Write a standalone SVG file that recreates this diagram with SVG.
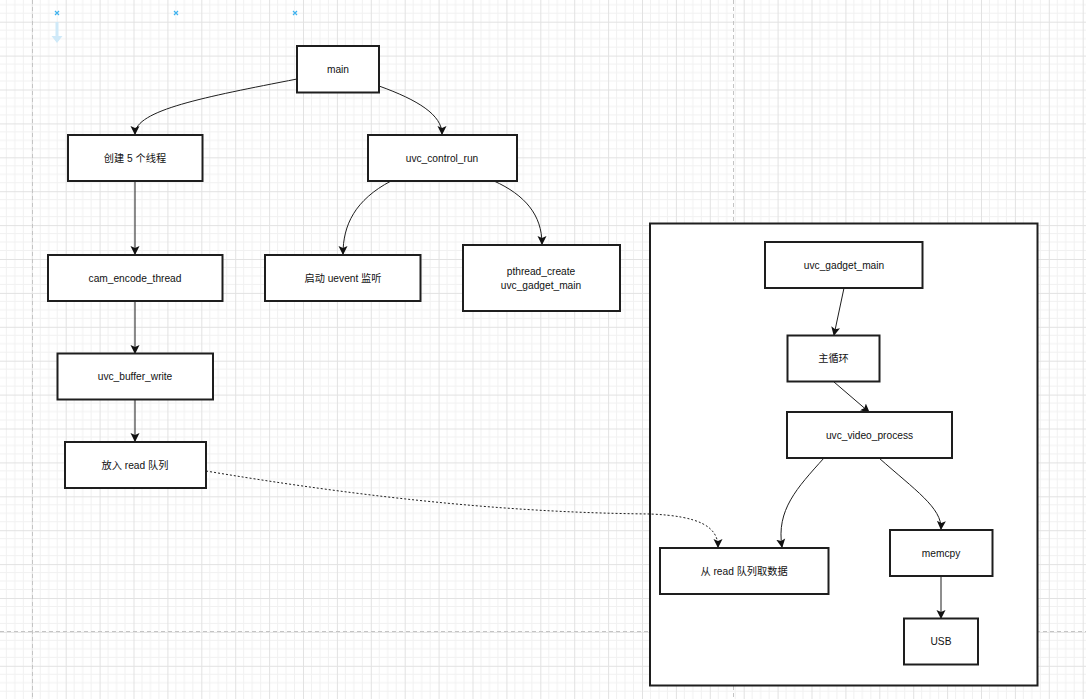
<svg xmlns="http://www.w3.org/2000/svg" width="1086" height="699" viewBox="0 0 1086 699">
<defs>
  <pattern id="grid" patternUnits="userSpaceOnUse" x="31.8" y="21.7" width="33.9" height="33.9">
    <path d="M8.475,0V33.9M16.95,0V33.9M25.425,0V33.9M0,8.475H33.9M0,16.95H33.9M0,25.425H33.9" stroke="#f1f1f1" stroke-width="1" fill="none"/>
    <path d="M0.5,0V33.9M0,0.5H33.9" stroke="#e2e2e2" stroke-width="1" fill="none"/>
  </pattern>
  <marker id="arr" markerUnits="userSpaceOnUse" markerWidth="10" markerHeight="10" refX="8" refY="4.5" orient="auto" viewBox="0 0 10 9">
    <path d="M0,0 L9,4.5 L0,9 L2,4.5 Z" fill="#111"/>
  </marker>
  <style>
    .box { fill: #fff; stroke: #1e1e1e; stroke-width: 2; }
    .lbl { font-family: "Liberation Sans", Arial, "Noto Sans CJK SC", sans-serif; font-size: 10.2px; fill: #111; text-anchor: middle; dominant-baseline: central; }
    .edge { fill: none; stroke: #1e1e1e; stroke-width: 1; marker-end: url(#arr); }
    .dot { stroke-dasharray: 2 2; }
    .page { stroke: #c4c4c4; stroke-width: 1; stroke-dasharray: 4 3; fill: none; }
  </style>
</defs>

<rect width="1086" height="699" fill="#fff"/>
<rect width="1086" height="699" fill="url(#grid)"/>
<g id="page-breaks">
  <path class="page" d="M32.5,0V699"/>
  <path class="page" d="M733.5,0V699"/>
  <path class="page" d="M0,631.5H1086"/>
</g>

<g id="ui-marks" stroke="#3fb2ee" stroke-width="1.2">
  <path d="M55,11l4,4M59,11l-4,4"/>
  <path d="M174,11l4,4M178,11l-4,4"/>
  <path d="M293,11l4,4M297,11l-4,4"/>
  <path d="M55.5,22V36H51.5L57,43L62.5,36H58.5V22Z" fill="#cfe9f8" stroke="none"/>
</g>

<g id="container">
  <rect class="box" x="650" y="223.5" width="387.5" height="462"/>
</g>

<g id="connectors">
  <path class="edge" d="M297,79 C205,97 135,110 135,134"/>
  <path class="edge" d="M379,86 C418,100 442,115 442,134"/>
  <path class="edge" d="M135,181 V254"/>
  <path class="edge" d="M135,301 V353"/>
  <path class="edge" d="M135,399 V441"/>
  <path class="edge" d="M391,181 C355,200 343,225 343,254"/>
  <path class="edge" d="M494,181 C525,195 542,215 542,244"/>
  <path class="edge dot" d="M206,471 C420,507 560,513 650,514 C700,516 718,527 718,547"/>
  <path class="edge" d="M844,288 L834,335"/>
  <path class="edge" d="M834,382 L869,412"/>
  <path class="edge" d="M824,458 C797,488 776,510 782,547"/>
  <path class="edge" d="M879,458 C915,490 942,508 941,529"/>
  <path class="edge" d="M941,576 V618"/>
</g>

<g id="n-main"><rect class="box" x="297" y="46" width="82" height="46.5"/><text class="lbl" x="338" y="69.5">main</text></g>
<g id="n-create"><rect class="box" x="68" y="135" width="134.5" height="46"/><text class="lbl" x="135" y="158">创建 5 个线程</text></g>
<g id="n-control"><rect class="box" x="368" y="135" width="149" height="46"/><text class="lbl" x="442" y="158">uvc_control_run</text></g>
<g id="n-cam"><rect class="box" x="48" y="255" width="174.5" height="46"/><text class="lbl" x="135" y="278">cam_encode_thread</text></g>
<g id="n-uevent"><rect class="box" x="265" y="255" width="155.5" height="46"/><text class="lbl" x="343" y="278">启动 uevent 监听</text></g>
<g id="n-pthread"><rect class="box" x="463" y="245" width="157" height="66"/><text class="lbl" x="541" y="271.5">pthread_create</text><text class="lbl" x="541" y="285">uvc_gadget_main</text></g>
<g id="n-bufwrite"><rect class="box" x="57.5" y="353.5" width="155.5" height="46"/><text class="lbl" x="135" y="376.5">uvc_buffer_write</text></g>
<g id="n-putread"><rect class="box" x="65" y="442" width="141" height="46"/><text class="lbl" x="135" y="465">放入 read 队列</text></g>
<g id="n-gadget"><rect class="box" x="765" y="242" width="157.5" height="46"/><text class="lbl" x="844" y="265">uvc_gadget_main</text></g>
<g id="n-loop"><rect class="box" x="787.5" y="335.5" width="92" height="46"/><text class="lbl" x="833.5" y="358.5">主循环</text></g>
<g id="n-video"><rect class="box" x="787" y="412" width="165" height="46"/><text class="lbl" x="869.5" y="435">uvc_video_process</text></g>
<g id="n-getread"><rect class="box" x="660" y="548" width="168.5" height="46"/><text class="lbl" x="744" y="571">从 read 队列取数据</text></g>
<g id="n-memcpy"><rect class="box" x="890" y="530" width="102.5" height="46"/><text class="lbl" x="941" y="553">memcpy</text></g>
<g id="n-usb"><rect class="box" x="904" y="618.5" width="74" height="46"/><text class="lbl" x="941" y="641.5">USB</text></g>
</svg>
